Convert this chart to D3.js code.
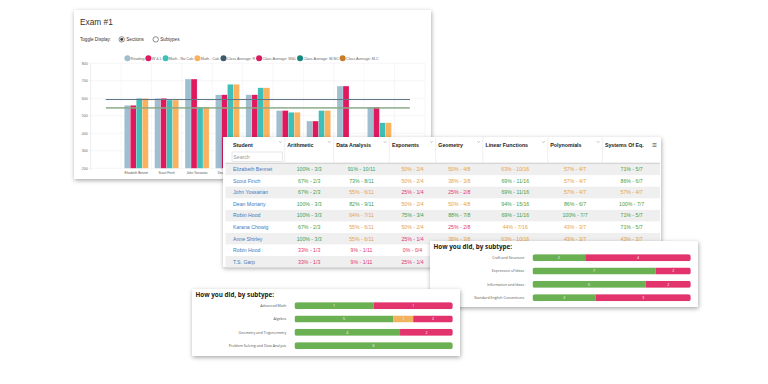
<!DOCTYPE html>
<html>
<head>
<meta charset="utf-8">
<script src="https://cdn.jsdelivr.net/npm/d3@7"></script>
<style>
  body { margin: 0; background: #fff; }
  svg { display: block; }
</style>
</head>
<body>
<svg id="board" width="768" height="384"></svg>
<script>
// ---- chart data ----
const students = ["Elizabeth Bennet", "Scout Finch", "John Yossarian", "Dean Moriarty", "Robin Hood",
  "Karana Chowig", "Anne Shirley", "Robin Hood", "T.S. Garp"];
const seriesNames = ["Reading", "W & L", "Math - No Calc", "Math - Calc"];
const reading = [560, 600, 710, 620, 620, 530, 470, 670, 550];
const writing = [560, 600, 710, 620, 620, 530, 470, 670, 550];
const mathNoCalc = [600, 590, 550, 680, 660, 520, 530, null, 460];
const mathCalc = [600, 590, 550, 680, 660, 520, 530, null, 460];
const avgNames = ["Class Average: R", "Class Average: W&L", "Class Average: M-NC", "Class Average: M-C"];
const classAverages = [593, 593, 545, 545];
const yTicks = [200, 300, 400, 500, 600, 700, 800];

// ---- table data ----
const tableHeaders = ["Student", "Arithmetic", "Data Analysis", "Exponents", "Geometry",
  "Linear Functions", "Polynomials", "Systems Of Eq."];
const questionTotals = [3, 11, 4, 8, 16, 7, 7];
const arithmeticRight = [3, 2, 2, 3, 3, 2, 3, 1, 1];
const dataAnalysisRight = [10, 8, 6, 9, 7, 6, 6, 1, 1];
const exponentsRight = [2, 2, 1, 2, 3, 2, 1, 0, 1];
const geometryRight = [4, 3, 2, 4, 7, 2, 3, null, null];
const linearRight = [10, 11, 11, 15, 11, 7, 10, null, null];
const polynomialsRight = [4, 4, 4, 6, 7, 3, 3, null, null];
const systemsRight = [5, 6, 4, 7, 5, 5, 3, null, null];

// ---- subtype data ----
const verbalSubtypes = ["Craft and Structure", "Expression of Ideas", "Information and Ideas", "Standard English Conventions"];
const verbalCorrect = [2, 7, 5, 2];
const verbalPartial = [0, 0, 0, 0];
const verbalWrong = [4, 2, 2, 3];
const mathSubtypes = ["Advanced Math", "Algebra", "Geometry and Trigonometry", "Problem Solving and Data Analysis"];
const mathCorrect = [1, 5, 4, 6];
const mathPartial = [0, 1, 0, 0];
const mathWrong = [1, 2, 2, 0];

const barColors = ["#9fbfd1", "#e0195f", "#3fbfb8", "#fbb25e"];
const avgLegendColors = ["#3d5a6c", "#d81b60", "#17877e", "#c97c2a"];
const avgLineColors = ["#60798a", "#e0195f", "#5aaba6", "#f0a850"];

const svg = d3.select("#board");

const defs = svg.append("defs");
defs.append("filter").attr("id", "shadow")
  .attr("x", "-10%").attr("y", "-10%").attr("width", "120%").attr("height", "125%")
  .append("feDropShadow")
  .attr("dx", 0.5).attr("dy", 1.5).attr("stdDeviation", 2)
  .attr("flood-color", "#000").attr("flood-opacity", 0.35);

const panel = (x, y, w, h) => {
  const g = svg.append("g");
  g.append("rect").attr("x", x).attr("y", y).attr("width", w).attr("height", h)
    .attr("fill", "#fff").attr("filter", "url(#shadow)");
  return g;
};

// =============== bar chart card ===============
const card = panel(74, 10, 357, 169);
const sans = "'Liberation Sans', Arial, sans-serif";

card.append("text").attr("x", 80).attr("y", 24.5).text("Exam #1")
  .style("font-family", sans).style("font-size", "8.3px").attr("fill", "#333");

card.append("text").attr("x", 80).attr("y", 41).text("Toggle Display:")
  .style("font-family", sans).style("font-size", "4.6px").attr("fill", "#333");
[["Sections", 121.7, true], ["Subtypes", 155.7, false]].forEach(([lab, cx, on]) => {
  card.append("circle").attr("cx", cx).attr("cy", 39.4).attr("r", 2.7)
    .attr("fill", "#fff").attr("stroke", "#444").attr("stroke-width", 0.6);
  if (on) card.append("circle").attr("cx", cx).attr("cy", 39.4).attr("r", 1.4).attr("fill", "#333");
  card.append("text").attr("x", cx + 4.6).attr("y", 41).text(lab)
    .style("font-family", sans).style("font-size", "4.6px").attr("fill", "#333");
});

// legend
const legendItems = seriesNames.map((n, i) => ({ name: n, color: barColors[i] }))
  .concat(avgNames.map((n, i) => ({ name: n, color: avgLegendColors[i] })));
const legend = card.append("g");
let lx = 0;
legendItems.forEach(d => {
  legend.append("circle").attr("cx", lx + 3).attr("cy", 0).attr("r", 3).attr("fill", d.color);
  const t = legend.append("text").attr("x", lx + 6.4).attr("y", 1.3).text(d.name)
    .style("font-family", sans).style("font-size", "3.7px").attr("fill", "#666");
  lx += 6.4 + t.node().getComputedTextLength() + 0.8;
});
legend.attr("transform", `translate(${252 - lx / 2},58.3)`);

const x0 = d3.scaleBand().domain(d3.range(students.length))
  .range([90.7, 425]).paddingInner(0).paddingOuter(1);
const x1 = d3.scaleBand().domain(seriesNames)
  .range([0, x0.bandwidth()]).paddingOuter(0.53);
const y = d3.scaleLinear().domain([200, 800]).range([168.3, 63.3]);
const step = x0.step();
const slotEdges = d3.range(students.length + 3).map(k => x0.range()[0] + k * step);

// grid
card.append("g").selectAll("line").data(yTicks).join("line")
  .attr("x1", 88.5).attr("x2", 425).attr("y1", d => y(d)).attr("y2", d => y(d))
  .attr("stroke", "#ececec").attr("stroke-width", 0.5);
card.append("g").selectAll("line").data(slotEdges).join("line")
  .attr("x1", d => d).attr("x2", d => d).attr("y1", 63.3).attr("y2", 170)
  .attr("stroke", (d, i) => i === 0 ? "#dcdcdc" : "#efefef").attr("stroke-width", 0.5);

const yAxis = card.append("g").attr("transform", "translate(90.7,0)")
  .call(d3.axisLeft(y).tickValues(yTicks).tickSize(0).tickPadding(3));
yAxis.select(".domain").remove();
yAxis.selectAll("text").style("font-family", sans).style("font-size", "3.5px").attr("fill", "#666");

const xAxis = card.append("g").attr("transform", "translate(0,168.3)")
  .call(d3.axisBottom(x0).tickSize(0).tickPadding(3.5).tickFormat(i => students[i]));
xAxis.select(".domain").remove();
xAxis.selectAll("text").style("font-family", sans).style("font-size", "3.1px").attr("fill", "#555");

// bars
const seriesValues = [reading, writing, mathNoCalc, mathCalc];
const groups = card.append("g").selectAll("g").data(students.map((s, i) => i)).join("g")
  .attr("transform", i => `translate(${x0(i)},0)`);
groups.selectAll("rect")
  .data(i => seriesNames.map((n, k) => ({ key: n, value: seriesValues[k][i], color: barColors[k] }))
    .filter(d => d.value != null))
  .join("rect")
  .attr("x", d => x1(d.key)).attr("width", x1.bandwidth())
  .attr("y", d => y(d.value)).attr("height", d => y(200) - y(d.value))
  .attr("fill", d => d.color).attr("stroke", "rgba(255,255,255,0.55)").attr("stroke-width", 0.4);

// class average lines
const avgLine = d3.line().x(d => d.x).y(d => y(d.v));
[1, 0, 3, 2].forEach(k => {
  const pts = d3.range(-1, students.length + 1).map(i => ({ x: x0.range()[0] + (i + 1.5) * step, v: classAverages[k] }));
  card.append("path").attr("d", avgLine(pts)).attr("fill", "none")
    .attr("stroke", avgLineColors[k]).attr("stroke-width", 1);
});

// =============== table card ===============
const table = panel(223, 137, 438, 130);
const colEdges = [223, 284.7, 333.7, 389.3, 435.7, 482.8, 547.7, 602.3, 661];
const rowY = d3.scaleBand().domain(d3.range(students.length)).range([163.6, 163.6 + students.length * 11.55]);
const correctCols = [arithmeticRight, dataAnalysisRight, exponentsRight, geometryRight,
  linearRight, polynomialsRight, systemsRight];

table.append("g").selectAll("rect").data(d3.range(students.length).filter(i => i % 2 === 0)).join("rect")
  .attr("x", 225.5).attr("width", 434.5).attr("y", i => rowY(i)).attr("height", rowY.bandwidth())
  .attr("fill", "#efefef");

table.append("line").attr("x1", 225.5).attr("x2", 660).attr("y1", 163.2).attr("y2", 163.2)
  .attr("stroke", "#c8c8c8").attr("stroke-width", 1.1);
table.append("g").selectAll("line").data(colEdges.slice(1, -1)).join("line")
  .attr("x1", d => d).attr("x2", d => d).attr("y1", 137.5).attr("y2", 162.7)
  .attr("stroke", "#dedede").attr("stroke-width", 0.5);

tableHeaders.forEach((h, c) => {
  const tx = c === 0 ? 233 : colEdges[c] + 2.6;
  table.append("text").attr("x", tx).attr("y", 146.5).text(h)
    .style("font-family", sans).style("font-size", "5.3px").style("font-weight", "bold").attr("fill", "#222");
  if (c < tableHeaders.length - 1) {
    const cx = colEdges[c + 1] - 4.2;
    table.append("path").attr("d", `M${cx - 1.3},141.3L${cx},142.6L${cx + 1.3},141.3`)
      .attr("fill", "none").attr("stroke", "#666").attr("stroke-width", 0.4);
  } else {
    table.append("text").attr("x", 651.8).attr("y", 146.7).text("≡")
      .style("font-family", "'DejaVu Sans', sans-serif").style("font-size", "6.5px").attr("fill", "#333");
  }
});

table.append("rect").attr("x", 232).attr("y", 152).attr("width", 50.3).attr("height", 9.3)
  .attr("fill", "#fff").attr("stroke", "#cfcfcf").attr("stroke-width", 0.5);
table.append("text").attr("x", 233.3).attr("y", 158.6).text("Search")
  .style("font-family", sans).style("font-size", "5.2px").attr("fill", "#999");

const scoreColor = p => p >= 65 ? "#43a04c" : p >= 35 ? "#e6a24a" : "#e3356f";
students.forEach((s, r) => {
  const cy = rowY(r) + rowY.bandwidth() / 2;
  table.append("text").attr("x", 233).attr("y", cy).attr("dy", "0.36em").text(s)
    .style("font-family", sans).style("font-size", "5.2px").attr("fill", "#3d7cbf");
  correctCols.forEach((col, c) => {
    if (col[r] == null) return;
    const pct = Math.round(col[r] / questionTotals[c] * 100);
    table.append("text").attr("x", (colEdges[c + 1] + colEdges[c + 2]) / 2).attr("y", cy).attr("dy", "0.36em")
      .attr("text-anchor", "middle").text(`${pct}% - ${col[r]}/${questionTotals[c]}`)
      .style("font-family", sans).style("font-size", "5.2px").attr("fill", scoreColor(pct));
  });
});

// =============== subtype cards ===============
const openSans = "'Open Sans', 'Noto Sans', sans-serif";
const segColors = ["#6bb052", "#f2b35f", "#e2336c"];

const drawSubtypes = (px, py, h, names, correct, partial, wrong, id) => {
  const g = panel(px, py, 268, h);
  g.append("text").attr("x", px + 3.5).attr("y", py + 8.3).text("How you did, by subtype:")
    .style("font-family", openSans).style("font-size", "6.3px").style("font-weight", "bold").attr("fill", "#222");
  const rows = d3.scaleBand().domain(names).range([py + 10, py + 10 + names.length * 13.33]);
  names.forEach((n, i) => {
    const cy = rows(n) + rows.bandwidth() / 2;
    const parts = [correct[i], partial[i], wrong[i]];
    const total = d3.sum(parts);
    const x = d3.scaleLinear().domain([0, total]).range([px + 102.5, px + 260.8]);
    g.append("text").attr("x", px + 94.3).attr("y", cy).attr("dy", "0.35em").attr("text-anchor", "end").text(n)
      .style("font-family", openSans).style("font-size", "3.6px").attr("fill", "#555");
    const clipId = `clip-${id}-${i}`;
    defs.append("clipPath").attr("id", clipId).append("rect")
      .attr("x", x(0)).attr("y", cy - 3.5).attr("width", x(total) - x(0)).attr("height", 7).attr("rx", 2.6);
    const segs = [];
    let acc = 0;
    parts.forEach((v, k) => { if (v > 0) segs.push({ v, start: acc, color: segColors[k] }); acc += v; });
    const sg = g.append("g").attr("clip-path", `url(#${clipId})`);
    sg.selectAll("rect").data(segs).join("rect")
      .attr("x", d => x(d.start)).attr("width", d => x(d.start + d.v) - x(d.start))
      .attr("y", cy - 3.5).attr("height", 7).attr("fill", d => d.color);
    g.selectAll(null).data(segs).join("text")
      .attr("x", d => (x(d.start) + x(d.start + d.v)) / 2).attr("y", cy).attr("dy", "0.35em")
      .attr("text-anchor", "middle").text(d => d.v)
      .style("font-family", openSans).style("font-size", "3.6px").attr("fill", "#fff");
  });
};

drawSubtypes(430, 241, 66, verbalSubtypes, verbalCorrect, verbalPartial, verbalWrong, "v");
drawSubtypes(192, 289, 67, mathSubtypes, mathCorrect, mathPartial, mathWrong, "m");
</script>
</body>
</html>
